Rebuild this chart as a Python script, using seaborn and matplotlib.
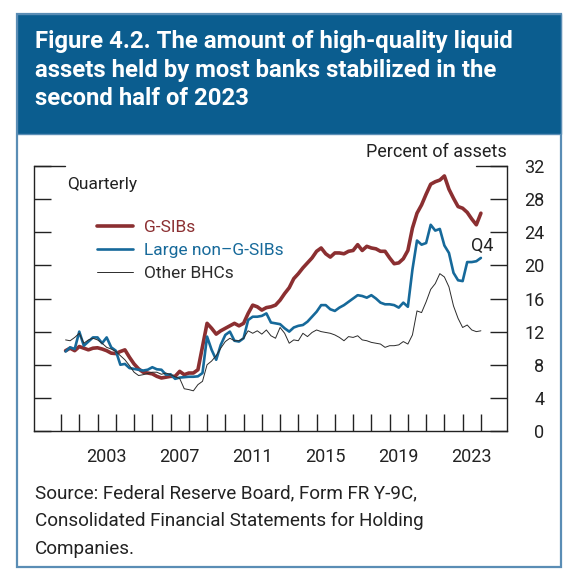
import matplotlib
matplotlib.use("Agg")
import matplotlib.pyplot as plt
from matplotlib.patches import Rectangle
import seaborn as sns
import pandas as pd

# quarterly, 2001Q1 - 2023Q4, percent of assets
gsib = [9.7, 10.0, 9.7, 10.2, 10.0, 9.8, 10.0, 10.05, 9.9, 9.7, 9.4, 9.35,
        9.6, 9.8, 8.9, 8.1, 7.5, 7.1, 7.0, 6.9, 6.6, 6.4, 6.5, 6.6,
        6.6, 7.2, 6.8, 7.0, 7.0, 7.4, 10.2, 13.0, 12.4, 11.7, 12.1, 12.4,
        12.7, 13.0, 12.7, 13.0, 14.2, 15.2, 15.0, 14.6, 14.9, 15.0, 15.2, 15.8,
        16.6, 17.3, 18.4, 19.0, 19.7, 20.3, 20.9, 21.7, 22.1, 21.4, 21.0, 21.5,
        21.5, 21.4, 21.7, 21.8, 22.5, 21.8, 22.3, 22.1, 22.0, 21.7, 21.7, 20.9,
        20.2, 20.3, 20.8, 21.8, 24.5, 26.3, 27.3, 28.6, 29.8, 30.1, 30.3, 30.8,
        29.2, 28.1, 27.1, 26.9, 26.4, 25.6, 24.9, 26.3]
large = [9.6, 10.1, 9.9, 12.0, 10.3, 10.8, 11.3, 11.3, 10.6, 11.3, 10.1, 9.7,
         8.0, 8.1, 7.6, 7.5, 7.4, 7.3, 7.4, 7.7, 7.45, 7.4, 6.8, 6.85,
         6.3, 6.45, 6.5, 6.55, 6.55, 6.6, 7.0, 11.4, 9.8, 8.6, 10.4, 11.6,
         12.0, 10.9, 10.8, 11.2, 13.4, 13.8, 13.8, 13.9, 14.2, 13.1, 13.0, 12.9,
         12.4, 12.0, 12.5, 12.7, 12.8, 13.2, 13.8, 14.4, 15.2, 15.2, 14.7, 14.5,
         14.9, 15.2, 15.6, 16.0, 16.4, 16.3, 16.1, 16.4, 16.0, 15.5, 15.3, 15.3,
         15.2, 14.9, 15.5, 15.0, 19.5, 23.0, 22.5, 22.7, 24.9, 24.2, 24.4, 22.4,
         21.5, 19.1, 18.2, 18.1, 20.4, 20.4, 20.5, 20.9]
other = [11.0, 10.9, 11.3, 11.8, 10.6, 11.0, 11.2, 11.0, 10.6, 10.1, 9.9, 9.6,
         9.1, 8.6, 7.9, 7.1, 6.7, 6.8, 6.95, 7.1, 7.1, 6.85, 7.0, 6.8,
         6.55, 6.35, 5.1, 5.0, 4.85, 5.6, 6.0, 8.0, 8.45, 9.1, 10.0, 10.8,
         11.2, 10.9, 10.9, 11.2, 12.1, 11.8, 12.1, 11.7, 12.2, 11.5, 11.2, 12.5,
         11.8, 10.6, 11.0, 10.9, 11.8, 11.4, 11.9, 12.2, 12.0, 11.9, 11.8, 11.6,
         11.3, 10.9, 11.4, 11.3, 11.5, 11.0, 10.9, 10.7, 10.6, 10.5, 10.1, 10.3,
         10.3, 10.4, 10.8, 10.5, 11.6, 14.5, 14.3, 15.6, 17.1, 17.8, 19.0, 18.6,
         17.4, 15.1, 13.6, 12.5, 12.8, 12.2, 12.0, 12.1]

series_names = ["G-SIBs", "Large non\u2013G-SIBs", "Other BHCs"]
year_ticks = list(range(2001, 2025))
year_labels = [2003, 2007, 2011, 2015, 2019, 2023]
y_ticks = list(range(0, 33, 4))

RED = "#8b2f31"
BLUE = "#16699a"
BLACK = "#2b2b2b"
BAND = "#0b5d8f"
FRAME = "#5a8db5"

quarters = pd.period_range("2001Q1", "2023Q4", freq="Q")
t = quarters.year + quarters.quarter / 4.0
df = pd.DataFrame({"t": t, series_names[0]: gsib,
                   series_names[1]: large, series_names[2]: other})

sns.set_style("white")
plt.rcParams["font.family"] = ["Roboto", "DejaVu Sans"]

W, H = 574, 576
fig = plt.figure(figsize=(W / 100, H / 100), dpi=100)


def fx(px):
    return px / W


def fy(py):
    return 1 - py / H


# frame and title band
fig.add_artist(Rectangle((fx(17), fy(567)), fx(561) - fx(17), fy(14) - fy(567),
                         transform=fig.transFigure, fill=False,
                         edgecolor=FRAME, lw=1.6))
fig.add_artist(Rectangle((fx(17), fy(134)), fx(561) - fx(17), fy(14) - fy(134),
                         transform=fig.transFigure, facecolor=BAND,
                         edgecolor=FRAME, lw=1.0))
title_lines = ["Figure 4.2. The amount of high-quality liquid",
               "assets held by most banks stabilized in the",
               "second half of 2023"]
for i, line in enumerate(title_lines):
    fig.text(fx(35), fy(48 + 28.5 * i), line, color="white", fontsize=17.2,
             fontweight="bold", va="baseline", ha="left")

ax = fig.add_axes([fx(34), fy(431), fx(507) - fx(34), fy(166) - fy(431)])

styles = [(RED, 2.6), (BLUE, 1.9), (BLACK, 0.7)]
for name, (col, lw) in zip(series_names, styles):
    sns.lineplot(data=df, x="t", y=name, color=col, linewidth=lw,
                 label=name, ax=ax)

ax.set_xlim(1999.52, 2025.43)
ax.set_ylim(0, 32)
ax.set_xlabel("")
ax.set_ylabel("")

for s in ["left", "right", "bottom"]:
    ax.spines[s].set_visible(True)
    ax.spines[s].set_color("#222222")
    ax.spines[s].set_linewidth(1.0)
ax.spines["top"].set_visible(False)

ax.set_xticks(year_ticks)
ax.set_xticklabels([])
ax.set_xticks([y + 0.5 for y in year_labels], minor=True)
ax.set_xticklabels([str(y) for y in year_labels], minor=True)
ax.tick_params(axis="x", which="major", direction="in", length=12,
               width=1.0, color="#222222", bottom=True)
ax.tick_params(axis="x", which="minor", length=0, pad=12,
               labelsize=13, labelcolor="#222222")

ax.set_yticks(y_ticks)
ax.yaxis.tick_right()
ax.tick_params(axis="y", which="major", direction="in", length=12, width=1.0,
               left=True, right=True, labelleft=False, labelright=True,
               color="#222222", labelsize=13, labelcolor="#222222", pad=27)
for tk in ax.yaxis.get_major_ticks():
    tk.label2.set_horizontalalignment("right")

# longer top ticks at 32
ax.plot([0, 0.066], [32, 32], color="#222222", lw=1.0,
        transform=ax.get_yaxis_transform(), clip_on=False)
ax.plot([0.934, 1], [32, 32], color="#222222", lw=1.0,
        transform=ax.get_yaxis_transform(), clip_on=False)

leg = ax.legend(loc="upper left", bbox_to_anchor=(0.133, 0.796), frameon=False,
                fontsize=12.5, handlelength=2.1, handletextpad=0.6,
                labelspacing=0.45, borderpad=0, borderaxespad=0,
                labelcolor=[RED, BLUE, BLACK])

ax.text(0.07, 0.93, "Quarterly", transform=ax.transAxes, fontsize=12.5,
        color="#222222", va="center", ha="left")
ax.text(1.0, 32.6, "Percent of assets", transform=ax.get_yaxis_transform(),
        fontsize=13, color="#222222", ha="right", va="bottom")
ax.text(2023.45, 22.4, "Q4", fontsize=13, color="#222222", ha="left",
        va="center")

source = ["Source: Federal Reserve Board, Form FR Y-9C,",
          "Consolidated Financial Statements for Holding",
          "Companies."]
for i, line in enumerate(source):
    fig.text(fx(35), fy(498 + 28 * i), line, color="#222222", fontsize=13.6,
             va="baseline", ha="left")

fig.savefig("out.png", dpi=100)
